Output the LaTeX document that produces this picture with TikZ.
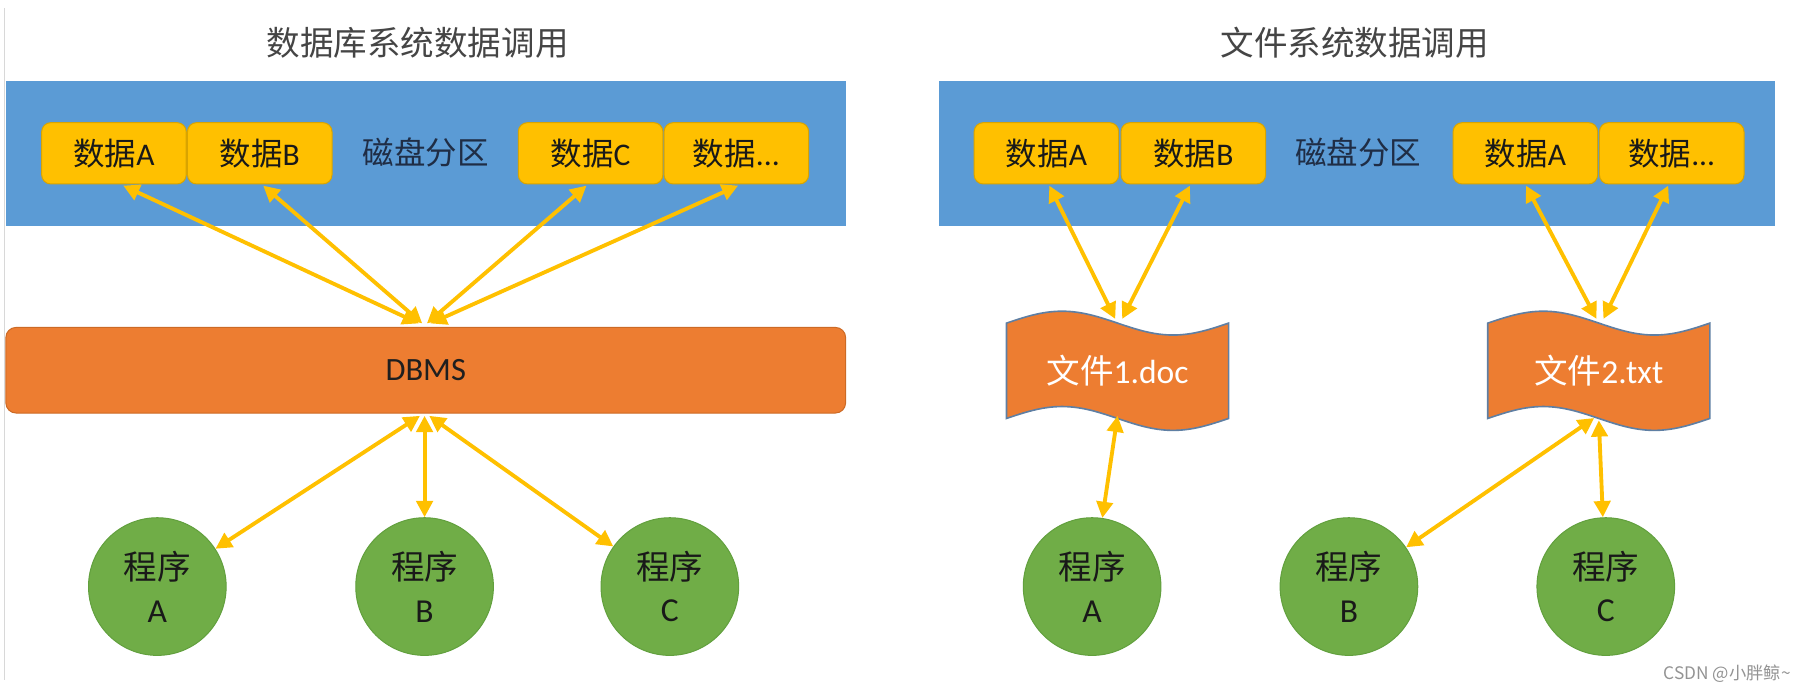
\documentclass[tikz,border=0pt]{standalone}
\usepackage{fontspec}
\setmainfont{Carlito}
\newfontfamily\cjk{Noto Sans CJK SC}
\usetikzlibrary{arrows.meta,calc}

\definecolor{bandblue}{HTML}{5B9BD5}
\definecolor{datayellow}{HTML}{FFC000}
\definecolor{datayellowline}{HTML}{D9A400}
\definecolor{dbmsorange}{HTML}{ED7D31}
\definecolor{dbmsline}{HTML}{CC6A25}
\definecolor{proggreen}{HTML}{70AD47}
\definecolor{progline}{HTML}{62A03E}
\definecolor{tapeline}{HTML}{5F7FA3}
\definecolor{linkyellow}{HTML}{FFC000}
\definecolor{titlegray}{HTML}{454545}
\definecolor{labelnavy}{HTML}{1F2D45}
\definecolor{edgegray}{HTML}{D8D8D8}

% wavy "punched tape" outline, left edge at x = #1
\newcommand\tapeshape[1]{%
  \filldraw[tape] (#1,279.3) sin ++(48,-10.3) cos ++(48,10.3) sin ++(48,10.3) cos ++(48,-10.3)
    -- ++(0,82.4) sin ++(-48,10.3) cos ++(-48,-10.3) sin ++(-48,-10.3) cos ++(-48,10.3) -- cycle;}

\begin{document}
\begin{tikzpicture}[x=0.02cm,y=-0.02cm,
  band/.style={fill=bandblue, draw=none},
  title/.style={text=titlegray, font=\cjk\fontsize{16.5}{20}\selectfont},
  partlabel/.style={text=labelnavy, font=\cjk\fontsize{15.5}{18}\selectfont},
  databox/.style={rectangle, rounded corners=4.5pt, fill=datayellow, draw=datayellowline,
    line width=0.5pt, minimum width=2.5cm, minimum height=1.06cm, inner sep=0pt,
    text=black!90, font=\fontsize{15.5}{18}\selectfont},
  dbmsbar/.style={rectangle, rounded corners=5pt, fill=dbmsorange, draw=dbmsline,
    line width=0.5pt, minimum width=14.52cm, minimum height=1.48cm, inner sep=0pt,
    text=black!88, font=\fontsize{16}{18}\selectfont},
  prog/.style={circle, fill=proggreen, draw=progline, line width=0.5pt,
    minimum size=2.38cm, inner sep=0pt, align=center, text=black!90,
    font=\fontsize{16.5}{21}\selectfont},
  tape/.style={fill=dbmsorange, draw=tapeline, line width=0.8pt},
  tapetext/.style={rectangle, minimum width=3.84cm, minimum height=1.66cm, inner sep=0pt,
    text=white, font=\fontsize{16.5}{19}\selectfont},
  dlink/.style={draw=linkyellow, line width=1.9pt,
    {Triangle[length=8pt,width=8pt]}-{Triangle[length=8pt,width=8pt]}},
  mark text/.style={text=gray!85, font=\cjk\fontsize{8.5}{10}\selectfont}]

\useasboundingbox (0,0) rectangle (1568,599);

% screen edge on the left
\draw[edgegray, line width=0.6pt] (4,7) -- (4,588);

% ---------------- database system ----------------
\node[title] (t1) at (361,37) {数据库系统数据调用};
\fill[band] (5,70) rectangle (731,195);
\node[databox] (dA) at (98.5,132.5) {{\cjk 数据}A};
\node[databox] (dB) at (224.5,132.5) {{\cjk 数据}B};
\node[partlabel] (disk1) at (368,132) {磁盘分区};
\node[databox] (dC) at (510.5,132.5) {{\cjk 数据}C};
\node[databox] (dD) at (636.5,132.5) {{\cjk 数据}...};

\node[dbmsbar] (dbms) at (368,320) {DBMS};

\node[prog] (pA) at (136,507) {{\cjk 程序}\\A};
\node[prog] (pB) at (367,507) {{\cjk 程序}\\B};
\node[prog] (pC) at (579,507) {{\cjk 程序}\\C};

\draw[dlink] ($(dA.south)+(8,1)$) -- ($(dbms.north)+(-6,-3)$);
\draw[dlink] ($(dB.south)+(3,1)$) -- ($(dbms.north)+(-3,-3)$);
\draw[dlink] ($(dC.south)+(-3.5,1)$) -- ($(dbms.north)+(1,-3)$);
\draw[dlink] ($(dD.south)+(1.5,1)$) -- ($(dbms.north)+(4,-3)$);

\draw[dlink] ($(dbms.south)+(-5,2)$) -- (pA);
\draw[dlink] ($(dbms.south)+(-1,2)$) -- (pB.north);
\draw[dlink] ($(dbms.south)+(3,2)$) -- (pC);

% ---------------- file system ----------------
\node[title] (t2) at (1171,37) {文件系统数据调用};
\fill[band] (812,70) rectangle (1534,195);
\node[databox] (rA) at (904.5,132.5) {{\cjk 数据}A};
\node[databox] (rB) at (1031.5,132.5) {{\cjk 数据}B};
\node[partlabel] (disk2) at (1174,132) {磁盘分区};
\node[databox] (rA2) at (1318.5,132.5) {{\cjk 数据}A};
\node[databox] (rD2) at (1445,132.5) {{\cjk 数据}...};

\tapeshape{870}
\tapeshape{1286}
\node[tapetext] (f1) at (966,320.5) {{\cjk 文件}1.doc};
\node[tapetext] (f2) at (1382,320.5) {{\cjk 文件}2.txt};

\node[prog] (qA) at (944,507) {{\cjk 程序}\\A};
\node[prog] (qB) at (1166,507) {{\cjk 程序}\\B};
\node[prog] (qC) at (1388,507) {{\cjk 程序}\\C};

\draw[dlink] ($(rA.south)+(2.5,1)$) -- ($(f1.north)+(-2,-3)$);
\draw[dlink] ($(rB.south)+(-3,1)$) -- ($(f1.north)+(4,-3)$);
\draw[dlink] ($(rA2.south)+(0.5,1)$) -- ($(f2.north)+(-2,-3)$);
\draw[dlink] ($(rD2.south)+(-3,1)$) -- ($(f2.north)+(4,-3)$);

\draw[dlink] ($(f1.south)+(0,-3)$) -- (qA);
\draw[dlink] ($(f2.south)+(-4,-1)$) -- (qB);
\draw[dlink] ($(f2.south)+(0,1)$) -- (qC);

\node[mark text, anchor=east] (wm) at (1554,582) {CSDN @小胖鲸\textasciitilde};

\end{tikzpicture}
\end{document}
